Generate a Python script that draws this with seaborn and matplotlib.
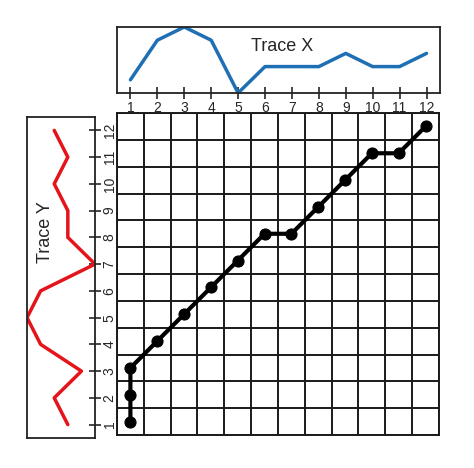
import numpy as np
import seaborn as sns
import matplotlib
matplotlib.use('Agg')
import matplotlib.pyplot as plt

# data
steps = list(range(1, 13))
trace_x = [1, 4, 5, 4, 0, 2, 2, 2, 3, 2, 2, 3]
trace_y = [3, 2, 4, 1, 0, 1, 5, 3, 3, 2, 3, 2]
path_x = [1, 1, 1, 2, 3, 4, 5, 6, 7, 8, 9, 10, 11, 12]
path_y = [1, 2, 3, 4, 5, 6, 7, 8, 8, 9, 10, 11, 11, 12]

sns.set_style('white')
plt.rcParams['font.family'] = ['Liberation Sans', 'DejaVu Sans']

fig = plt.figure(figsize=(4.74, 4.68), dpi=100)
ax_main = fig.add_axes([0.2468, 0.0705, 0.6793, 0.6880])
ax_top = fig.add_axes([0.2468, 0.8013, 0.6814, 0.1410])
ax_left = fig.add_axes([0.0570, 0.0641, 0.1435, 0.6859])

# main grid with path
sns.lineplot(x=path_x, y=path_y, sort=False, estimator=None, color='black',
             lw=3, marker='o', markersize=8, markeredgecolor='black',
             ax=ax_main, zorder=3)
ax_main.set_xlim(0.5, 12.5)
ax_main.set_ylim(0.5, 12.5)
ax_main.set_xticks(np.arange(0.5, 13, 1))
ax_main.set_yticks(np.arange(0.5, 13, 1))
ax_main.tick_params(length=0, labelbottom=False, labelleft=False)
ax_main.grid(True, color='#1a1a1a', lw=1.4)
for s in ax_main.spines.values():
    s.set_color('#1a1a1a')
    s.set_linewidth(1.4)

# top trace
sns.lineplot(x=steps, y=trace_x, estimator=None, color='#1f6fb5', lw=2.5,
             ax=ax_top)
ax_top.set_xlim(0.5, 12.5)
ax_top.set_ylim(0, 5)
ax_top.set_xticks(steps)
ax_top.set_yticks([])
ax_top.tick_params(axis='x', direction='inout', length=9, width=1.2,
                   labelsize=10, pad=1, bottom=True)
ax_top.text(0.51, 0.71, 'Trace X', transform=ax_top.transAxes,
            ha='center', va='center', fontsize=13)
for s in ax_top.spines.values():
    s.set_color('#222222')
    s.set_linewidth(1.3)

# left trace
sns.lineplot(x=trace_y, y=steps, sort=False, estimator=None, orient='y',
             color='#e4141a', lw=2.5, ax=ax_left)
ax_left.set_ylim(0.5, 12.5)
ax_left.set_xlim(0, 5)
ax_left.set_yticks(steps)
ax_left.set_xticks([])
ax_left.yaxis.tick_right()
ax_left.tick_params(axis='y', direction='inout', length=9, width=1.2,
                    labelsize=10, pad=1, right=True, labelrotation=90)
for lab in ax_left.get_yticklabels():
    lab.set_va('center')
ax_left.text(0.265, 0.64, 'Trace Y', transform=ax_left.transAxes,
             ha='center', va='center', fontsize=13, rotation=90)
for s in ax_left.spines.values():
    s.set_color('#222222')
    s.set_linewidth(1.3)

fig.savefig('out.png', dpi=100)
